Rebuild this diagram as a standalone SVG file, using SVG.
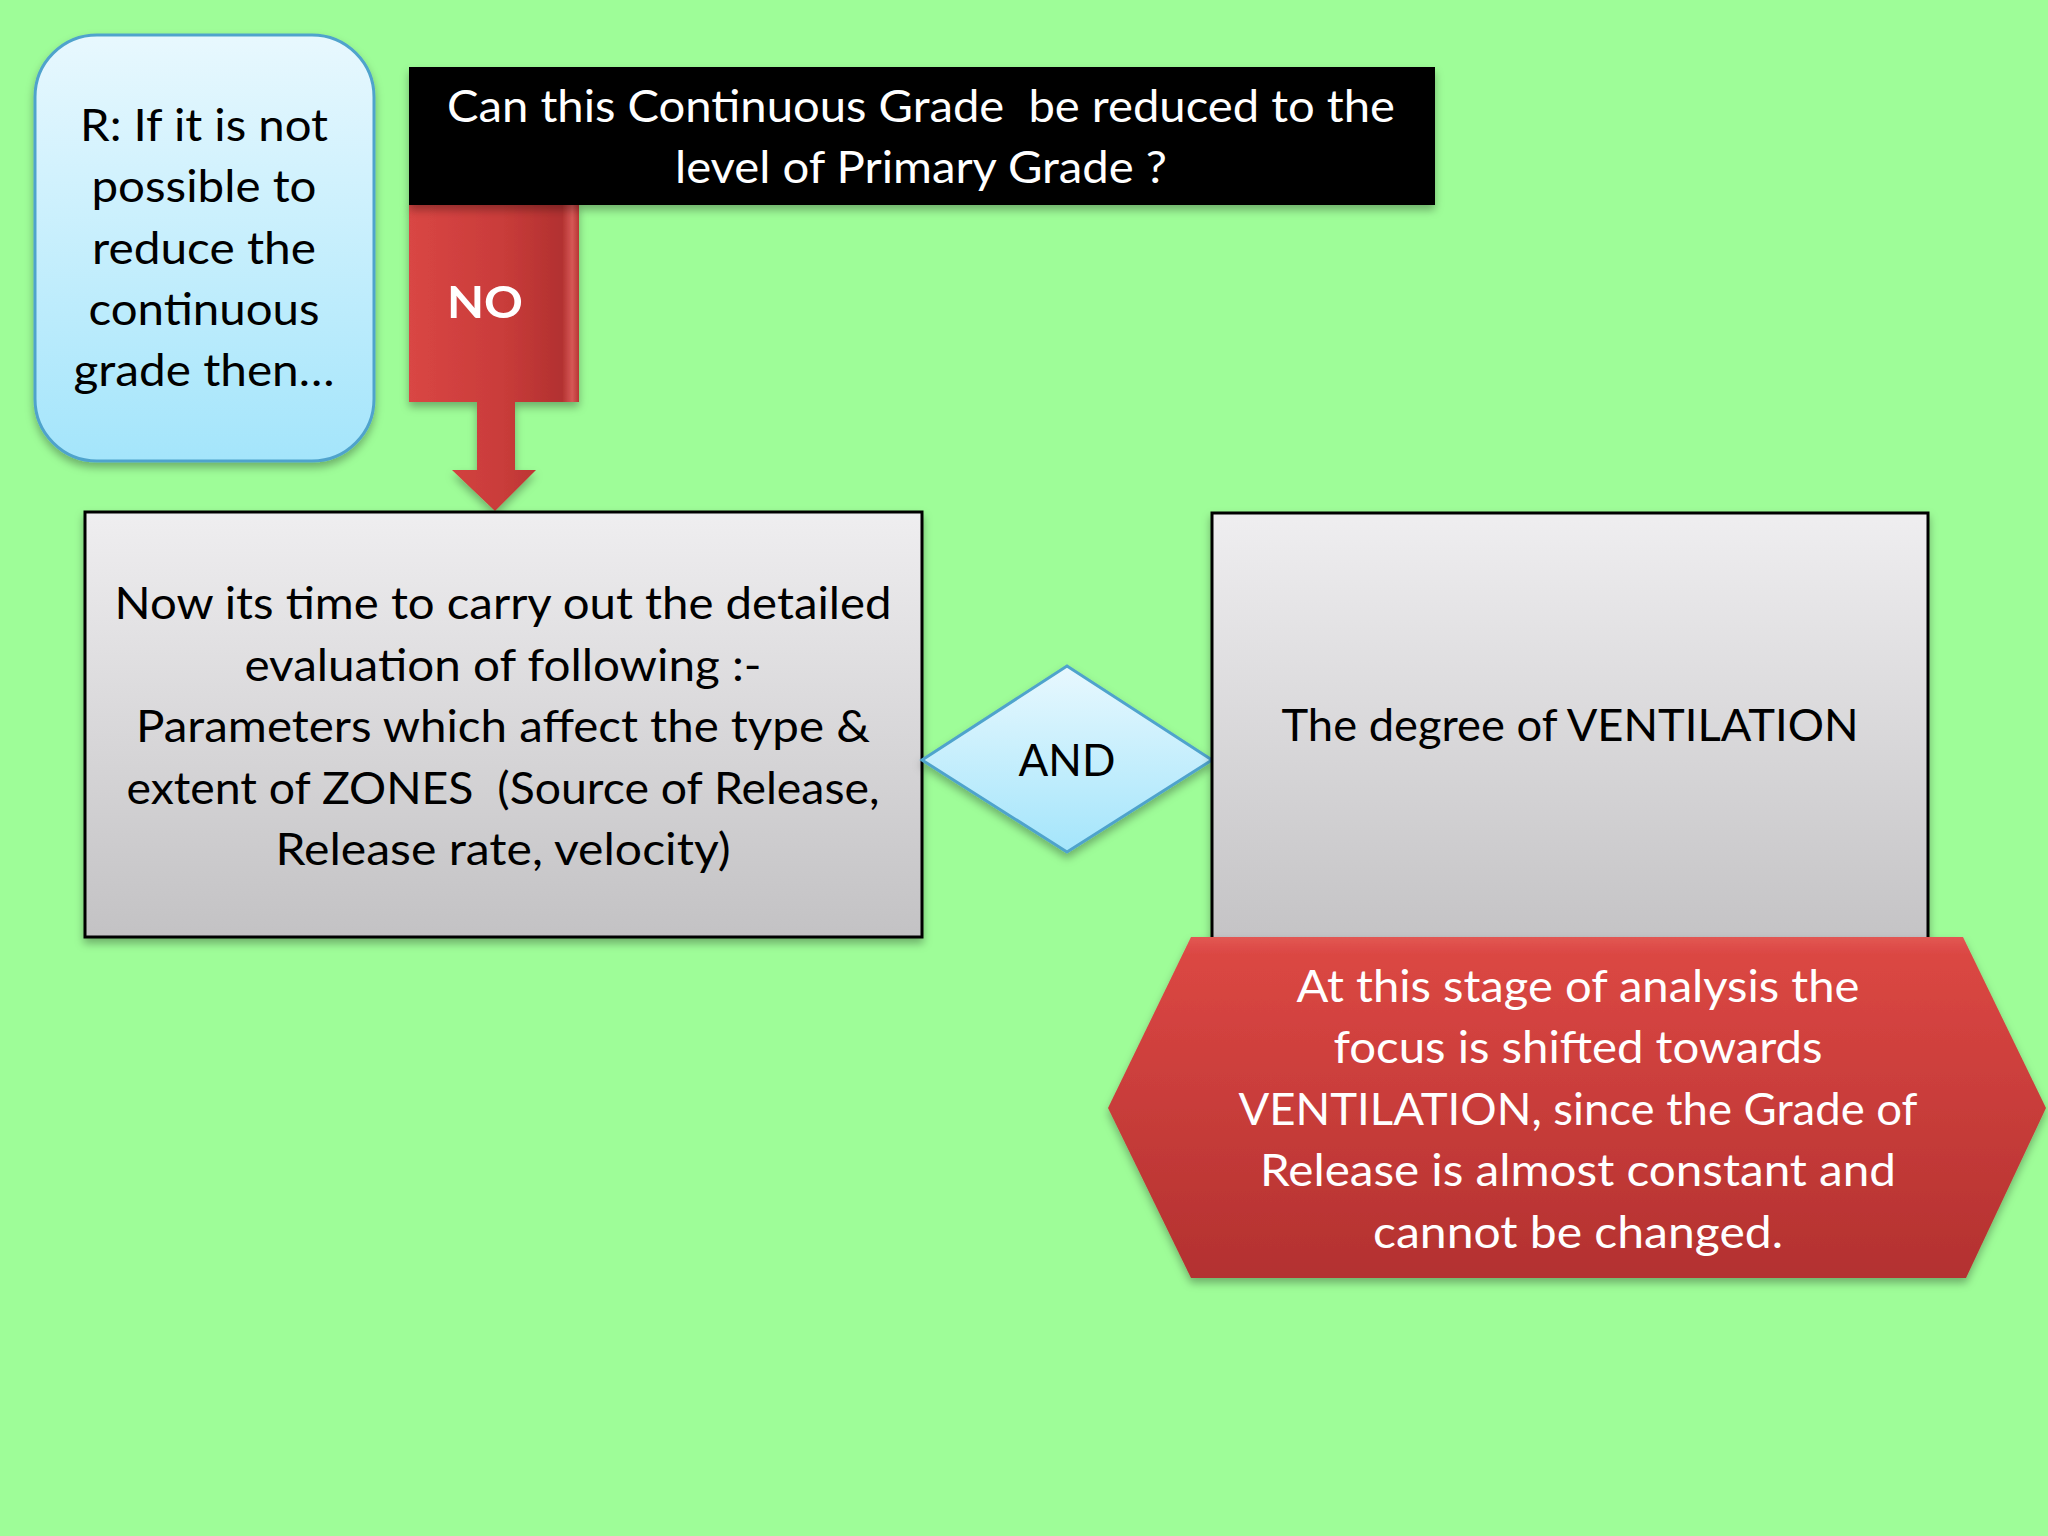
<svg xmlns="http://www.w3.org/2000/svg" width="2048" height="1536" viewBox="0 0 2048 1536">
<defs>
<linearGradient id="gBlue" x1="0" y1="0" x2="0" y2="1">
<stop offset="0" stop-color="#e8f8fe"/>
<stop offset="1" stop-color="#a4e5fb"/>
</linearGradient>
<linearGradient id="gGrey" x1="0" y1="0" x2="0" y2="1">
<stop offset="0" stop-color="#efeef0"/>
<stop offset="1" stop-color="#c3c2c4"/>
</linearGradient>
<linearGradient id="gRedH" x1="0" y1="0" x2="1" y2="0">
<stop offset="0" stop-color="#d94644"/>
<stop offset="0.55" stop-color="#c93c3a"/>
<stop offset="0.9" stop-color="#b23130"/>
<stop offset="0.96" stop-color="#d65856"/>
<stop offset="1" stop-color="#b83634"/>
</linearGradient>
<linearGradient id="gRedV" x1="0" y1="0" x2="0" y2="1">
<stop offset="0" stop-color="#e25753"/>
<stop offset="0.05" stop-color="#db4743"/>
<stop offset="1" stop-color="#b33130"/>
</linearGradient>
<filter id="sh" x="-10%" y="-10%" width="120%" height="125%">
<feDropShadow dx="0" dy="5" stdDeviation="4" flood-color="#000" flood-opacity="0.3"/>
</filter>
<style>
.t{font-family:Lato,"Open Sans","Liberation Sans",sans-serif;font-size:44px;fill:#000;text-anchor:middle;white-space:pre}
.w{fill:#fff}
.grey{fill:url(#gGrey);stroke:#000;stroke-width:3}
.blue{fill:url(#gBlue);stroke:#4fa3cc;stroke-width:3}
</style>
</defs>
<rect width="2048" height="1536" fill="#9efd98"/>

<g id="note-r">
<rect x="35" y="35" width="339" height="426" rx="62" class="blue" filter="url(#sh)"/>
<text class="t" x="204" y="141" textLength="248" lengthAdjust="spacingAndGlyphs">R: If it is not</text>
<text class="t" x="204" y="202" textLength="225" lengthAdjust="spacingAndGlyphs">possible to</text>
<text class="t" x="204" y="264" textLength="224" lengthAdjust="spacingAndGlyphs">reduce the</text>
<text class="t" x="204" y="325" textLength="231" lengthAdjust="spacingAndGlyphs">continuous</text>
<text class="t" x="204" y="386" textLength="261" lengthAdjust="spacingAndGlyphs">grade then…</text>
</g>

<g id="connectors">
<g id="no-arrow" filter="url(#sh)">
<path d="M409,203 H579 V402 H515 V470 H536 L495,511 L452,470 H477 V402 H409 Z" fill="url(#gRedH)"/>
<text class="t w" x="485" y="318" style="font-weight:bold" textLength="76" lengthAdjust="spacingAndGlyphs">NO</text>
</g>
</g>

<g id="question">
<rect x="409" y="67" width="1026" height="138" fill="#000" filter="url(#sh)"/>
<text class="t w" x="921" y="122" textLength="948" lengthAdjust="spacingAndGlyphs">Can this Continuous Grade  be reduced to the</text>
<text class="t w" x="921" y="183" textLength="492" lengthAdjust="spacingAndGlyphs">level of Primary Grade ?</text>
</g>

<g id="evaluation">
<rect x="85" y="512" width="837" height="425" class="grey" filter="url(#sh)"/>
<text class="t" x="503" y="619" textLength="777" lengthAdjust="spacingAndGlyphs">Now its time to carry out the detailed</text>
<text class="t" x="503" y="681" textLength="517" lengthAdjust="spacingAndGlyphs">evaluation of following :-</text>
<text class="t" x="503" y="742" textLength="734" lengthAdjust="spacingAndGlyphs">Parameters which affect the type &amp;</text>
<text class="t" x="503" y="804" textLength="753" lengthAdjust="spacingAndGlyphs">extent of ZONES  (Source of Release,</text>
<text class="t" x="503" y="865" textLength="455" lengthAdjust="spacingAndGlyphs">Release rate, velocity)</text>
</g>

<g id="and">
<polygon points="922,760 1067,666 1212,760 1067,852" class="blue" stroke-width="2.5" filter="url(#sh)"/>
<text class="t" x="1067" y="776">AND</text>
</g>

<g id="ventilation">
<rect x="1212" y="513" width="716" height="440" class="grey" filter="url(#sh)"/>
<text class="t" x="1570" y="741" textLength="577" lengthAdjust="spacingAndGlyphs">The degree of VENTILATION</text>
</g>

<g id="focus">
<polygon points="1108,1108 1191,937 1963,937 2046,1108 1966,1278 1191,1278" fill="url(#gRedV)" filter="url(#sh)"/>
<text class="t w" x="1578" y="1002" textLength="563" lengthAdjust="spacingAndGlyphs">At this stage of analysis the</text>
<text class="t w" x="1578" y="1063" textLength="489" lengthAdjust="spacingAndGlyphs">focus is shifted towards</text>
<text class="t w" x="1578" y="1125" textLength="679" lengthAdjust="spacingAndGlyphs">VENTILATION, since the Grade of</text>
<text class="t w" x="1578" y="1186" textLength="636" lengthAdjust="spacingAndGlyphs">Release is almost constant and</text>
<text class="t w" x="1578" y="1248" textLength="410" lengthAdjust="spacingAndGlyphs">cannot be changed.</text>
</g>
</svg>
